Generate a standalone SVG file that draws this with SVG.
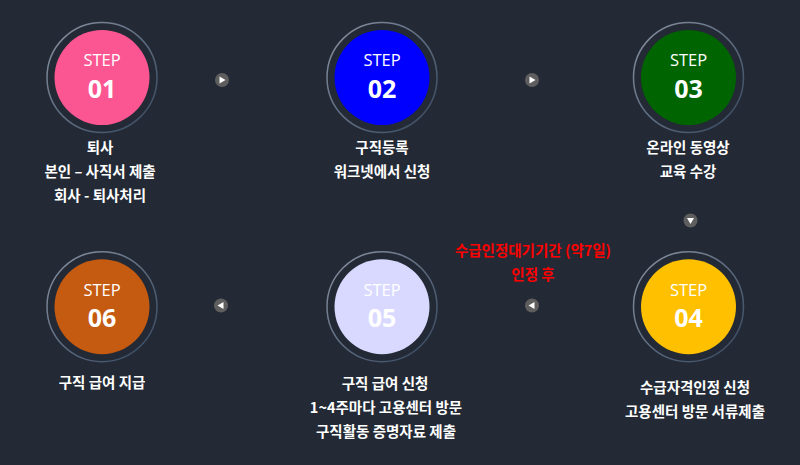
<svg xmlns="http://www.w3.org/2000/svg" width="800" height="465" viewBox="0 0 800 465">
<defs>
<linearGradient id="ring" x1="0" y1="0" x2="1" y2="1">
<stop offset="0" stop-color="#8a93a3"/>
<stop offset="1" stop-color="#34465e"/>
</linearGradient>
<g id="arr">
<circle r="7" fill="#5e5e5e"/>
<path d="M-2.5,-3.5 L3.5,0 L-2.5,3.5 Z" fill="#ffffff"/>
</g>
</defs>
<style>
.ring{fill:none;stroke:url(#ring);stroke-width:1.5}
.step{font-family:"Open Sans","Noto Sans",sans-serif;font-size:16.5px;fill:#ffffff;text-anchor:middle}
.num{font-family:"Open Sans","Noto Sans",sans-serif;font-size:25px;font-weight:bold;fill:#ffffff;text-anchor:middle}
.lbl{font-family:"Noto Sans CJK KR","Noto Sans",sans-serif;font-size:14.5px;font-weight:bold;fill:#ffffff;text-anchor:middle}
.red{font-family:"Noto Sans CJK KR","Noto Sans",sans-serif;font-size:14.5px;font-weight:bold;fill:#ff0000;text-anchor:middle}
</style>
<rect width="800" height="465" fill="#232a35"/>
<g id="connectors">
<use href="#arr" x="222" y="80"/>
<use href="#arr" x="532" y="80"/>
<use href="#arr" transform="translate(690.5,220.5) rotate(90)"/>
<use href="#arr" transform="translate(532,305.5) rotate(180)"/>
<use href="#arr" transform="translate(221,305.5) rotate(180)"/>
<text class="red" x="533" y="256">수급인정대기기간 (약7일)</text>
<text class="red" x="533" y="280">인정 후</text>
</g>
<g id="step01">
<circle class="ring" cx="102" cy="77.5" r="55"/>
<circle cx="102" cy="77.5" r="47.5" fill="#fb5692"/>
<text class="step" x="102" y="66">STEP</text>
<text class="num" x="102" y="97.5">01</text>
<text class="lbl" x="100" y="153">퇴사</text>
<text class="lbl" x="100" y="177">본인 – 사직서 제출</text>
<text class="lbl" x="100" y="201">회사 - 퇴사처리</text>
</g>
<g id="step02">
<circle class="ring" cx="382" cy="77.5" r="55"/>
<circle cx="382" cy="77.5" r="47.5" fill="#0000ff"/>
<text class="step" x="382" y="66">STEP</text>
<text class="num" x="382" y="97.5">02</text>
<text class="lbl" x="382" y="153">구직등록</text>
<text class="lbl" x="382" y="177">워크넷에서 신청</text>
</g>
<g id="step03">
<circle class="ring" cx="688.5" cy="77.5" r="55"/>
<circle cx="688.5" cy="77.5" r="47.5" fill="#006400"/>
<text class="step" x="688.5" y="66">STEP</text>
<text class="num" x="688.5" y="97.5">03</text>
<text class="lbl" x="688" y="153">온라인 동영상</text>
<text class="lbl" x="688" y="177">교육 수강</text>
</g>
<g id="step04">
<circle class="ring" cx="688.5" cy="306.7" r="55"/>
<circle cx="688.5" cy="306.7" r="47.5" fill="#ffc000"/>
<text class="step" x="688.5" y="295.5">STEP</text>
<text class="num" x="688.5" y="327">04</text>
<text class="lbl" x="695" y="393">수급자격인정 신청</text>
<text class="lbl" x="695" y="417">고용센터 방문 서류제출</text>
</g>
<g id="step05">
<circle class="ring" cx="382" cy="306.7" r="55"/>
<circle cx="382" cy="306.7" r="47.5" fill="#d9d9ff"/>
<text class="step" x="382" y="295.5">STEP</text>
<text class="num" x="382" y="327">05</text>
<text class="lbl" x="385" y="389">구직 급여 신청</text>
<text class="lbl" x="386" y="413">1~4주마다 고용센터 방문</text>
<text class="lbl" x="386" y="437">구직활동 증명자료 제출</text>
</g>
<g id="step06">
<circle class="ring" cx="102" cy="306.7" r="55"/>
<circle cx="102" cy="306.7" r="47.5" fill="#c55a11"/>
<text class="step" x="102" y="295.5">STEP</text>
<text class="num" x="102" y="327">06</text>
<text class="lbl" x="102" y="388">구직 급여 지급</text>
</g>
</svg>
